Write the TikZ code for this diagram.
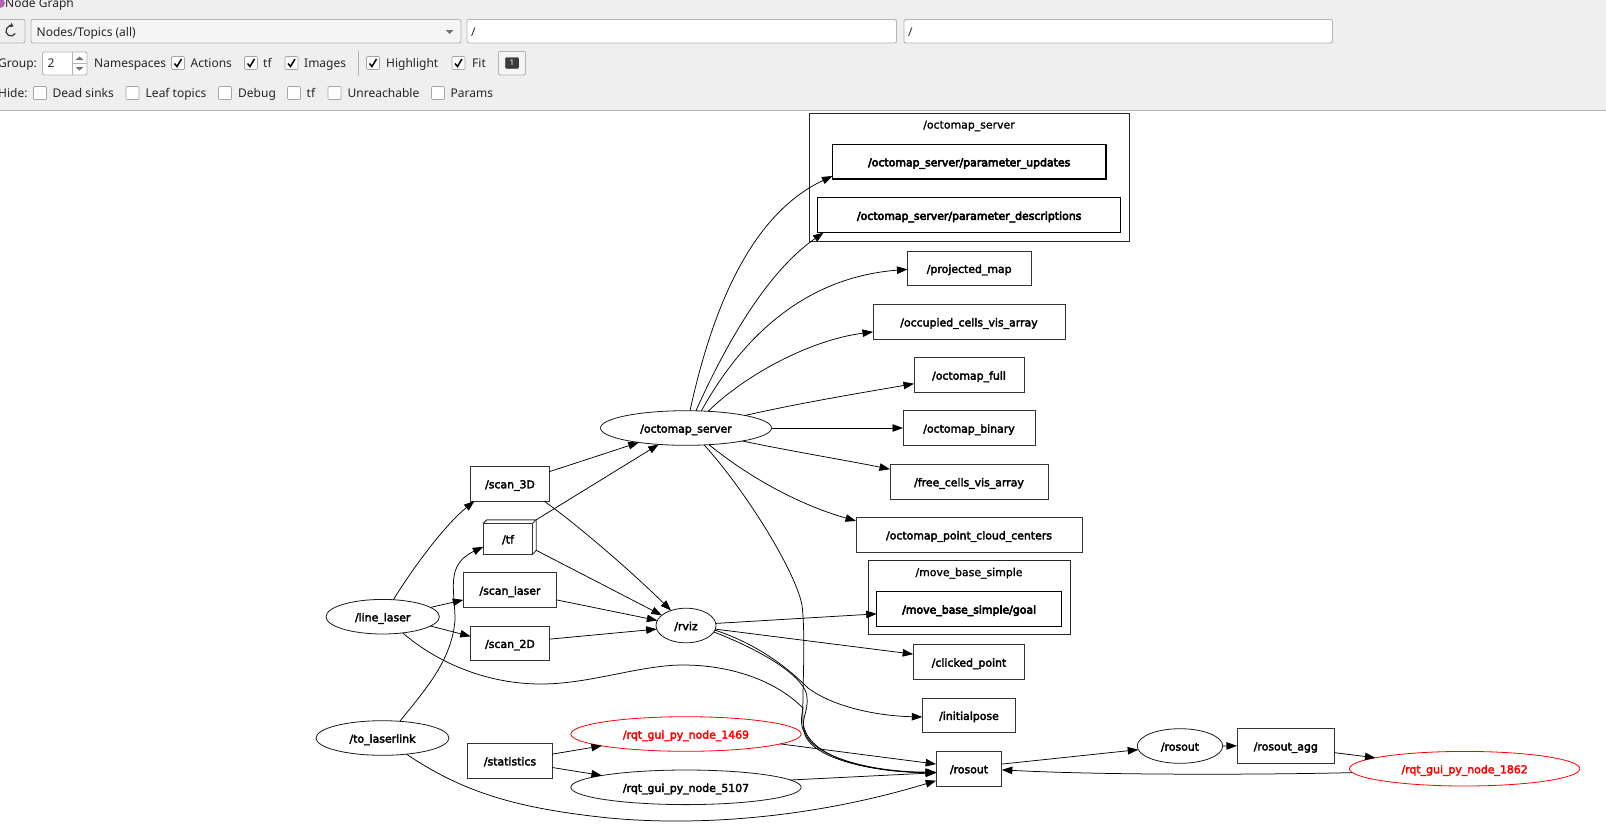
\documentclass[tikz,border=0pt]{standalone}
\usepackage{fontspec}
\usetikzlibrary{arrows.meta}
\usetikzlibrary{shapes.geometric}
\newfontfamily\graphfont[RawFeature={embolden=3}]{DejaVu Sans}
\newfontfamily\innerfont[RawFeature={embolden=5}]{DejaVu Sans}
\newfontfamily\groupfont[RawFeature={embolden=1.5}]{DejaVu Sans}
\newfontfamily\uifont{Noto Sans}
\definecolor{uibg}{HTML}{EFEFEF}
\definecolor{uiline}{HTML}{B4B4B4}
\definecolor{uidark}{HTML}{3C3C3C}
\definecolor{gred}{rgb}{1, 0, 0}
\tikzset{topic/.style = {draw = black!80, line width = 0.9, rectangle, inner sep = 0, outer sep = 0, minimum height = 34.7, text height = 11, text depth = 1.8, font = \graphfont\fontsize{10.9}{13}\selectfont}}
\tikzset{rosnode/.style = {draw = black!90, line width = 0.8, ellipse, inner sep = 0, outer sep = 0, minimum height = 34.6, text height = 11, text depth = 1.8, font = \graphfont\fontsize{10.9}{13}\selectfont}}
\tikzset{deadnode/.style = {rosnode, draw = gred, text = gred}}
\tikzset{inner/.style = {topic, draw = black, line width = 1.2, font = \innerfont\fontsize{10.9}{13}\selectfont}}
\tikzset{grouptitle/.style = {inner sep = 0, text height = 11, text depth = 1.8, font = \groupfont\fontsize{10.9}{13}\selectfont}}
\tikzset{edge/.style = {line width = 0.75, draw = black, -{Triangle[length = 10.5, width = 7.5]}}}
\tikzset{uilabel/.style = {anchor = west, inner sep = 0, text = black!85, text height = 12, text depth = 2.6, font = \uifont\fontsize{12}{14}\selectfont}}
\tikzset{field/.style = {draw = uiline, fill = white, rounded corners = 2, line width = 0.9}}
\tikzset{cbox/.style = {draw = black!35, fill = white, rectangle, rounded corners = 1, inner sep = 0, minimum size = 13, line width = 0.7}}
\tikzset{tick/.style = {draw = black, line width = 1.5}}

\begin{document}
\begin{tikzpicture}[x = 1pt, y = -1pt]
    \useasboundingbox (0, 0) rectangle (1606, 831);

    % toolbar
    \fill [uibg] (0, 0) rectangle (1606, 110);
    \draw [uiline, line width = 1] (0, 110.7) -- (1606, 110.7);
    \fill [violet!60] (0, 3) circle (5);
    \node [uilabel] (title) at (5, 3) {Node Graph};

    \draw [field, fill = uibg] (-3, 19.5) rectangle (25, 43);
    \draw [uidark, line width = 1.3, -{Triangle[length = 3.5, width = 4.5]}] (15.3, 33.5) arc (30:300:5);
    \draw [field, fill = uibg!60!white] (31, 19.5) rectangle (461, 43);
    \node [uilabel] (mode) at (36.5, 31.5) {Nodes/Topics (all)};
    \fill [black!55] (445.5, 30) -- (453.5, 30) -- (449.5, 34) -- cycle;
    \draw [field] (467, 19.5) rectangle (896.5, 43);
    \node [uilabel] (nsfilter) at (471, 31.5) {/};
    \draw [field] (904, 19.5) rectangle (1332.5, 43);
    \node [uilabel] (topicfilter) at (908, 31.5) {/};

    \node [uilabel] (group) at (-2, 63) {Group:};
    \draw [field] (42.5, 52) rectangle (87, 75);
    \node [uilabel] (groupval) at (47.5, 63) {2};
    \draw [black!30, line width = 0.7] (72, 52) -- (72, 75);
    \draw [black!30, line width = 0.7] (72, 63.5) -- (87, 63.5);
    \fill [black!55] (75.5, 60) -- (83.5, 60) -- (79.5, 56.5) -- cycle;
    \fill [black!55] (75.5, 67) -- (83.5, 67) -- (79.5, 70.5) -- cycle;
    \draw [uiline, line width = 0.8] (358.5, 50.5) -- (358.5, 76);
    \draw [field, fill = uibg!60!white] (498.5, 51.5) rectangle (525.5, 75);
    \node [draw = uidark, fill = uidark, rectangle, rounded corners = 1.5, inner sep = 0, minimum width = 13.5, minimum height = 11, text = white, font = \uifont\bfseries\fontsize{8}{9}\selectfont] (badge) at (512, 63) {1};

    \foreach \cname/\cx/\lx/\ltext in {cnames/0/94/Namespaces, cactions/178/190.5/Actions, ctf/251/263/tf, cimages/291.5/304/Images, chighlight/373/386/Highlight, cfit/458.5/472/Fit}
    {
      \ifdim \cx pt > 0pt
        \node [cbox] (\cname) at (\cx, 63) {};
        \draw [tick] (\cx - 3.5, 63.5) -- (\cx - 1, 66.5) -- (\cx + 3.5, 59);
      \fi
      \node [uilabel] (l\cname) at (\lx, 63) {\ltext};
    }

    \node [uilabel] (hide) at (-2, 93) {Hide:};
    \foreach \cname/\cx/\lx/\ltext in {hdead/40/52.5/Dead sinks, hleaf/132.5/145.5/Leaf topics, hdebug/225/238/Debug, htf/294/306.5/tf, hunreach/334.5/347.5/Unreachable, hparams/438/450.5/Params}
    {
      \node [cbox] (\cname) at (\cx, 93) {};
      \node [uilabel] (l\cname) at (\lx, 93) {\ltext};
    }

    % groups
    \node [draw = black!85, line width = 1.1, rectangle, inner sep = 0, minimum width = 320, minimum height = 127.7] (octogroup) at (969.2, 177.2) {};
    \node [grouptitle] (octotitle) at (969, 124) {/octomap\_server};
    \node [draw = black!85, line width = 0.9, rectangle, inner sep = 0, minimum width = 201.7, minimum height = 74] (movegroup) at (969.2, 597.3) {};
    \node [grouptitle] (movetitle) at (969, 571.5) {/move\_base\_simple};

    % topics
    \node [inner, minimum width = 273.5] (updates) at (969.2, 161.7) {/octomap\_server/parameter\_updates};
    \node [inner, minimum width = 303.2] (descriptions) at (969.2, 215.2) {/octomap\_server/parameter\_descriptions};
    \node [topic, minimum width = 123.5] (projected) at (969.2, 268.3) {/projected\_map};
    \node [topic, minimum width = 192] (occupied) at (969, 321.8) {/occupied\_cells\_vis\_array};
    \node [topic, minimum width = 110] (full) at (969, 375) {/octomap\_full};
    \node [topic, minimum width = 132] (binary) at (969, 428) {/octomap\_binary};
    \node [topic, minimum width = 158] (freecells) at (969, 481.7) {/free\_cells\_vis\_array};
    \node [topic, minimum width = 226] (centers) at (969, 534.8) {/octomap\_point\_cloud\_centers};
    \node [inner, minimum width = 185] (goal) at (969.2, 609) {/move\_base\_simple/goal};
    \node [topic, minimum width = 111.7] (clicked) at (969, 662) {/clicked\_point};
    \node [topic, minimum width = 93.4] (initialpose) at (969, 715.3) {/initialpose};
    \node [topic, minimum width = 65.7] (rosoutbox) at (969, 768.7) {/rosout};
    \node [topic, minimum width = 78.6] (scanthree) at (510, 483.7) {/scan\_3D};
    \node [topic, minimum width = 93.4] (scanlaser) at (510, 590) {/scan\_laser};
    \node [topic, minimum width = 78.6] (scantwo) at (510, 643.3) {/scan\_2D};
    \node [topic, minimum width = 84.6] (statistics) at (510, 760.8) {/statistics};
    \node [topic, minimum width = 97.7] (rosoutagg) at (1285.8, 745.8) {/rosout\_agg};

    \node [topic, minimum width = 49.4, minimum height = 31] (tf) at (508, 538.8) {/tf};
    \coordinate (tftop) at ([shift = {(3.5, -3.5)}]tf.north east);
    \coordinate (tflow) at ([shift = {(3.5, -4)}]tf.south east);
    \draw [black!80, line width = 0.9] (tf.north west) -- ++(3.5, -3.5) -- (tftop) -- (tf.north east);
    \draw [black!80, line width = 0.9] (tftop) -- (tflow) -- (tf.south east);

    % ros nodes
    \node [rosnode, minimum width = 171] (octomap) at (686, 428) {/octomap\_server};
    \node [rosnode, minimum width = 60] (rviz) at (686, 625.5) {/rviz};
    \node [rosnode, minimum width = 113.3] (linelaser) at (382.7, 616.7) {/line\_laser};
    \node [rosnode, minimum width = 133] (tolaser) at (382.5, 738) {/to\_laserlink};
    \node [deadnode, minimum width = 230.3] (rqtone) at (686, 734) {/rqt\_gui\_py\_node\_1469};
    \node [rosnode, minimum width = 230.3] (rqtfive) at (686, 787.3) {/rqt\_gui\_py\_node\_5107};
    \node [rosnode, minimum width = 85.5] (rosoutnode) at (1180, 746) {/rosout};
    \node [deadnode, minimum width = 230.3] (rqtgui) at (1464.6, 768.7) {/rqt\_gui\_py\_node\_1862};

    % edges out of octomap_server
    \draw [edge] (octomap.77) .. controls (712, 310) and (750, 215) .. (updates.west |- 0, 176);
    \draw [edge] (octomap.60) .. controls (730, 335) and (770, 270) .. ([xshift = 6]descriptions.south west);
    \draw [edge] (octomap.48) .. controls (735, 350) and (795, 278) .. (projected.181);
    \draw [edge] (octomap.37) .. controls (745, 375) and (810, 340) .. (occupied.186);
    \draw [edge] (octomap.12) .. controls (800, 403) and (860, 393) .. (full.189);
    \draw [edge] (octomap.east) -- (binary.west);
    \draw [edge] (octomap.-13) .. controls (790, 451) and (850, 461) .. (freecells.171);
    \draw [edge] (octomap.-36) .. controls (750, 478) and (800, 505) .. (centers.173);
    \draw [edge] (octomap.-43) .. controls (745, 490) and (795, 570) .. (802, 605) .. controls (806, 640) and (802, 690) .. (803, 722) .. controls (806, 758) and (870, 772) .. (rosoutbox.187);

    % edges into rviz
    \draw [edge] (tftop) -- (octomap.211);
    \draw [edge] (scanthree.17) -- (octomap.197);
    \draw [edge] (scanthree.-27) .. controls (575, 523) and (630, 570) .. (rviz.135);
    \draw [edge] (tflow) -- (rviz.157);
    \draw [edge] (scanlaser.-12) -- (rviz.170);
    \draw [edge] (scantwo.6) -- (rviz.187);

    % edges out of line_laser and to_laserlink
    \draw [edge] (linelaser.58) .. controls (415, 565) and (445, 525) .. (scanthree.206);
    \draw [edge] (linelaser.11) -- (scanlaser.192);
    \draw [edge] (linelaser.-11) -- (scantwo.170);
    \draw [edge] (linelaser.-39) .. controls (440, 665) and (490, 684) .. (541, 684) .. controls (590, 684) and (640, 665) .. (683, 665) .. controls (730, 665) and (775, 680) .. (803, 708) .. controls (800, 722) and (802, 728) .. (804, 732) .. controls (810, 758) and (870, 772) .. (rosoutbox.187);
    \draw [edge] (tolaser.44) .. controls (425, 690) and (452, 660) .. (455, 620) .. controls (455, 590) and (445, 565) .. (tf.198);
    \draw [edge] (tolaser.-34) .. controls (460, 790) and (510, 807) .. (600, 817) .. controls (680, 826) and (800, 822) .. (rosoutbox.200);

    % edges out of rviz
    \draw [edge] (rviz.4) -- (goal.183);
    \draw [edge] (rviz.-7) -- (clicked.172);
    \draw [edge] (rviz.-9) .. controls (760, 645) and (790, 670) .. (808, 688) .. controls (835, 708) and (880, 716) .. (initialpose.182);
    \draw [edge] (rviz.-13) .. controls (755, 648) and (795, 670) .. (805, 690) .. controls (812, 705) and (800, 720) .. (804, 730) .. controls (810, 756) and (870, 772) .. (rosoutbox.186);

    % remaining edges
    \draw [edge] (statistics.9) -- (rqtone.188);
    \draw [edge] (statistics.-9) -- (rqtfive.172);
    \draw [edge] (rqtone.-6) -- (rosoutbox.172);
    \draw [edge] (rqtfive.4) -- (rosoutbox.187);
    \draw [edge] (rosoutbox.8) -- (rosoutnode.185);
    \draw [edge] (rosoutnode.east) -- (rosoutagg.west);
    \draw [edge] (rosoutagg.-8) -- (rqtgui.173);
    \draw [edge] (rqtgui.182) .. controls (1250, 775) and (1100, 775) .. (rosoutbox.-2);
  \end{tikzpicture}
\end{document}
